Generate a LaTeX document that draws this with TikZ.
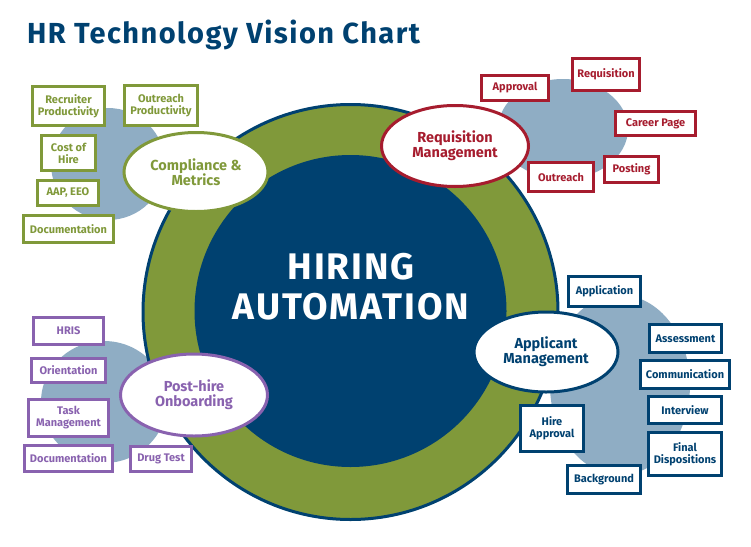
\documentclass[tikz,border=0pt]{standalone}
\usepackage{fontspec}
\setmainfont{Fira Sans}
\usetikzlibrary{shapes.geometric}

\definecolor{hrblue}{RGB}{0,65,112}
\definecolor{hrolive}{RGB}{128,153,58}
\definecolor{hrred}{RGB}{166,28,46}
\definecolor{hrpurple}{RGB}{137,98,175}
\definecolor{hrgray}{RGB}{143,173,196}

\begin{document}
\begin{tikzpicture}[x=1pt, y=-1pt,
    item/.style={rectangle, draw, line width=3pt, fill=white, align=center, inner sep=0pt,
      font=\bfseries\fontsize{11}{12}\selectfont},
    hub/.style={ellipse, draw, line width=3pt, fill=white, align=center, inner sep=0pt,
      font=\bfseries\fontsize{14.5}{15}\selectfont},
    blob/.style={ellipse, fill=hrgray, inner sep=0pt}]
    \useasboundingbox (0,0) rectangle (751,546);

    % Title
    \node (title) [anchor=base west, inner sep=0pt, text=hrblue,
      font=\bfseries\fontsize{29}{30}\selectfont\addfontfeature{LetterSpace=5}] at (27,43) {HR Technology Vision Chart};

    % Grey backdrops behind each group
    \node (blobC) [blob, minimum width=114pt, minimum height=112pt] at (108,164) {};
    \node (blobR) [blob, minimum width=130pt, minimum height=100pt] at (563,129) {};
    \node (blobO) [blob, minimum width=126pt, minimum height=122pt] at (104,402) {};
    \node (blobA) [blob, minimum width=140pt, minimum height=180pt] at (620,385) {};

    % Central ring
    \node (ring) [circle, draw=hrblue, line width=3pt, fill=hrolive, minimum size=415pt, inner sep=0pt] at (350.5,312) {};
    \node (core) [circle, fill=hrblue, minimum size=312pt, inner sep=0pt] at (350.5,311) {};
    \node (hiring) [text=white, align=center, inner sep=0pt,
      font=\bfseries\fontsize{37}{40}\selectfont\addfontfeature{LetterSpace=5}] at (351,287) {HIRING\\AUTOMATION};

    % Four hubs on the ring
    \node (compliance) [hub, draw=hrolive, text=hrolive, minimum width=144pt, minimum height=79pt] at (196,172) {Compliance \&\\Metrics};
    \node (requisition) [hub, draw=hrred, text=hrred, minimum width=147pt, minimum height=81pt] at (455,146) {Requisition\\Management};
    \node (applicant) [hub, draw=hrblue, text=hrblue, minimum width=144pt, minimum height=80pt] at (546,352) {Applicant\\Management};
    \node (onboarding) [hub, draw=hrpurple, text=hrpurple, minimum width=147pt, minimum height=82pt] at (194,395) {Post-hire\\Onboarding};

    % Compliance & Metrics items
    \begin{scope}[every node/.style={item, draw=hrolive, text=hrolive}]
      \node (recruiter) [minimum width=72pt, minimum height=39pt] at (68.5,106) {Recruiter\\Productivity};
      \node (outreachprod) [minimum width=73pt, minimum height=40pt] at (161,105.5) {Outreach\\Productivity};
      \node (costhire) [minimum width=54pt, minimum height=35pt] at (68.5,153) {Cost of\\Hire};
      \node (aap) [minimum width=61pt, minimum height=25pt] at (68,193) {AAP, EEO};
      \node (docsC) [minimum width=90pt, minimum height=27pt] at (68.5,229) {Documentation};
    \end{scope}

    % Requisition Management items
    \begin{scope}[every node/.style={item, draw=hrred, text=hrred}]
      \node (approval) [minimum width=67pt, minimum height=25pt] at (515,88) {Approval};
      \node (reqn) [minimum width=67pt, minimum height=32pt] at (606,74.5) {Requisition};
      \node (career) [minimum width=80pt, minimum height=24pt] at (655.5,123.5) {Career Page};
      \node (posting) [minimum width=54pt, minimum height=26pt] at (631.5,169.5) {Posting};
      \node (outreach) [minimum width=65pt, minimum height=29pt] at (561,177) {Outreach};
    \end{scope}

    % Applicant Management items
    \begin{scope}[every node/.style={item, draw=hrblue, text=hrblue}]
      \node (application) [minimum width=72pt, minimum height=30pt] at (604.5,291.5) {Application};
      \node (assessment) [minimum width=72pt, minimum height=28pt] at (685.5,338.5) {Assessment};
      \node (communication) [minimum width=89pt, minimum height=28pt] at (685,374.5) {Communication};
      \node (interview) [minimum width=73pt, minimum height=27pt] at (685,410) {Interview};
      \node (finaldisp) [minimum width=73pt, minimum height=43pt] at (685,454) {Final\\Dispositions};
      \node (hireappr) [minimum width=63pt, minimum height=46pt] at (552,428.5) {Hire\\Approval};
      \node (background) [minimum width=73pt, minimum height=28pt] at (604,479.5) {Background};
    \end{scope}

    % Post-hire Onboarding items
    \begin{scope}[every node/.style={item, draw=hrpurple, text=hrpurple}]
      \node (hris) [minimum width=70pt, minimum height=27pt] at (68.5,331) {HRIS};
      \node (orientation) [minimum width=74pt, minimum height=24pt] at (68.5,370.5) {Orientation};
      \node (taskmgmt) [minimum width=80pt, minimum height=37pt] at (68.5,418) {Task\\Management};
      \node (docsO) [minimum width=88pt, minimum height=26pt] at (68.5,458.5) {Documentation};
      \node (drugtest) [minimum width=61pt, minimum height=25pt] at (161,459) {Drug Test};
    \end{scope}
\end{tikzpicture}
\end{document}
